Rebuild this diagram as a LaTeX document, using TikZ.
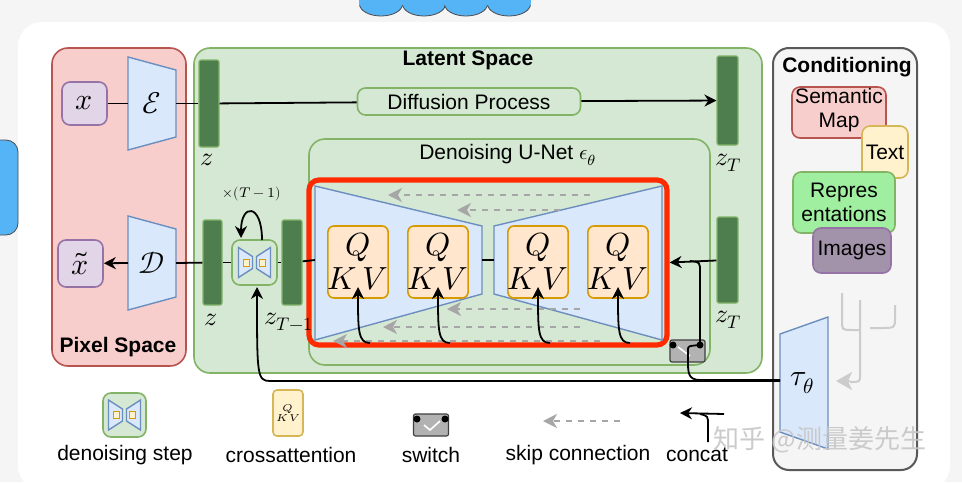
\documentclass[tikz,border=0pt]{standalone}
\usepackage{fontspec}
\setmainfont{Liberation Sans}
\newfontfamily\cjk{Noto Sans CJK SC}
\usepackage{unicode-math}
\setmathfont{Latin Modern Math}
\usetikzlibrary{arrows.meta}
\definecolor{pinkF}{HTML}{F8CECC}\definecolor{pinkD}{HTML}{B85450}
\definecolor{greenF}{HTML}{D5E8D4}\definecolor{greenD}{HTML}{82B366}
\definecolor{purpF}{HTML}{E1D5E7}\definecolor{purpD}{HTML}{9673A6}
\definecolor{blueF}{HTML}{DAE8FC}\definecolor{blueD}{HTML}{6C8EBF}
\definecolor{orF}{HTML}{FFE6CC}\definecolor{orD}{HTML}{D79B00}
\definecolor{yelF}{HTML}{FFF2CC}\definecolor{yelD}{HTML}{D6B656}
\definecolor{barF}{HTML}{4E7D4E}\definecolor{barD}{HTML}{82B366}
\definecolor{redB}{HTML}{FF2A00}
\definecolor{skyB}{HTML}{55B4F5}
\begin{document}
\begin{tikzpicture}[x=0.5pt,y=-0.5pt,
 box/.style={draw,rounded corners=4pt,line width=0.8pt,inner sep=0pt},
 bar/.style={fill=barF,draw=barD,line width=0.6pt,rounded corners=1pt},
 trap/.style={fill=blueF,draw=blueD,line width=0.7pt},
 lbl/.style={font=\fontsize{10.5}{12}\selectfont},
 ttl/.style={font=\bfseries\fontsize{10.5}{12}\selectfont},
 ml/.style={font=\fontsize{15}{16}\selectfont},
 zl/.style={font=\fontsize{13}{14}\selectfont},
 arr/.style={-{Stealth[length=6pt,width=6pt]},line width=0.9pt},
 ln/.style={line width=0.9pt},
 skip/.style={draw=gray!70,dashed,line width=0.8pt,-{Stealth[length=7pt,width=7pt,inset=2pt]}},
 qkv/.style={box,fill=orF,draw=orD,minimum width=29pt,minimum height=36pt,align=center,font=\fontsize{16}{17}\selectfont,rounded corners=3pt}]
\useasboundingbox (0,0) rectangle (962,482);
\fill[gray!8] (0,0) rectangle (962,482);
\fill[white,rounded corners=12pt] (18,22) rectangle (950,490);
% decorations
\fill[skyB,draw=black!70,rounded corners=6pt] (-20,140) rectangle (18,235);
\foreach \cx in {381,424,466,509} \filldraw[fill=skyB,draw=black!70] (\cx,4) ellipse (21.5 and 12);
\fill[skyB] (359,-5) rectangle (531,5);
% containers
\node[box,fill=pinkF,draw=pinkD,minimum width=67pt,minimum height=159pt,rounded corners=8pt] (pix) at (119,207) {};
\node[ttl] (pixl) at (118,347) {Pixel Space};
\node[box,fill=greenF,draw=greenD,minimum width=284pt,minimum height=162.5pt,rounded corners=8pt] (lat) at (478,210.5) {};
\node[ttl] (latl) at (468,60) {Latent Space};
\node[box,fill=gray!8,draw=gray!70!black,minimum width=72pt,minimum height=211pt,rounded corners=8pt,line width=1pt] (cond) at (845,259) {};
\node[ttl] (condl) at (847,67) {Conditioning};
\node[box,fill=greenF,draw=greenD,minimum width=200.5pt,minimum height=113pt,rounded corners=8pt] (unet) at (509.5,252) {};
\node[lbl] (unetl) at (508,155) {Denoising U-Net $\epsilon_\theta$};
% pixel space contents
\node[box,fill=purpF,draw=purpD,minimum width=22.5pt,minimum height=21.5pt,ml] (x) at (84.5,103.5) {$x$};
\node[box,fill=purpF,draw=purpD,minimum width=22.5pt,minimum height=23.5pt,ml] (xt) at (80.5,263.5) {$\tilde{x}$};
\draw[trap] (128,57) -- (176,70) -- (176,137) -- (128,150) -- cycle;
\node[ml] (E) at (152,103) {$\mathcal{E}$};
\draw[trap] (128,216) -- (176,229) -- (176,297) -- (128,310) -- cycle;
\node[ml] (D) at (152,263) {$\mathcal{D}$};
% latent bars
\node[bar,minimum width=10pt,minimum height=43.5pt,inner sep=0pt] (z1) at (209,103.5) {};
\node[zl] (z1l) at (207,160) {$z$};
\node[bar,minimum width=10.5pt,minimum height=44.5pt,inner sep=0pt] (zT1) at (727.5,100.5) {};
\node[zl] (zT1l) at (729,163) {$z_T$};
\node[bar,minimum width=9.5pt,minimum height=42.5pt,inner sep=0pt] (z2) at (212.5,262.5) {};
\node[zl] (z2l) at (211,320) {$z$};
\node[bar,minimum width=10pt,minimum height=42.5pt,inner sep=0pt] (zm) at (292,262.5) {};
\node[bar,minimum width=10.5pt,minimum height=43pt,inner sep=0pt] (zT2) at (727.5,260) {};
\node[zl] (zT2l) at (729,320) {$z_T$};
\node[box,fill=greenF,draw=greenD,minimum width=111.5pt,minimum height=13.5pt,lbl] (diff) at (469,101.5) {Diffusion Process};
\draw[ln] (x) -- (128,103.5);
\draw[ln] (176,103.5) -- (z1);
\draw[ln] (z1) -- (diff);
\draw[arr] (diff) -- (zT1);
% denoising step icon
\tikzset{pics/dstep/.style={code={
 \draw[trap,line width=0.7pt] (-16,-15) -- (-2,-6) -- (-2,6) -- (-16,15) -- cycle;
 \draw[trap,line width=0.7pt] (16,-15) -- (2,-6) -- (2,6) -- (16,15) -- cycle;
 \fill[yelF,draw=orD,line width=0.5pt] (-11,-3.5) rectangle (-5,3.5);
 \fill[yelF,draw=orD,line width=0.5pt] (5,-3.5) rectangle (11,3.5);}}}
\node[box,fill=greenF,draw=greenD,minimum width=22.5pt,minimum height=22.5pt] (step) at (254.5,262.5) {};
\pic at (254.5,262.5) {dstep};
\draw[arr] (262,240) .. controls (262,203) and (241,203) .. (241,238);
\node[font=\fontsize{7}{8}\selectfont] (loopl) at (252,194) {$\times(T-1)$};
\draw[ln] (176,263) -- (z2);
\draw[ln] (z2) -- (step);
\draw[ln] (step) -- (zm);
\draw[arr] (128,263) -- (xt);
% U-Net
\node[draw=redB,line width=2.6pt,rounded corners=5pt,minimum width=179pt,minimum height=82.5pt,inner sep=0pt] (red) at (488,262.5) {};
\node[zl] (zml) at (289,322) {$z_{T-1}$};
\draw[trap] (315,186) -- (482,226) -- (482,294) -- (315,340) -- cycle;
\draw[trap] (494,226) -- (662,186) -- (662,340) -- (494,294) -- cycle;
\draw[ln] (zm) -- (315,260);
\draw[ln] (482,260) -- (494,260);
\coordinate (s1a) at (590,195); \coordinate (s1b) at (388,195);
\coordinate (s2a) at (560,210); \coordinate (s2b) at (457,210);
\coordinate (s3a) at (580,309); \coordinate (s3b) at (447,309);
\coordinate (s4a) at (580,327); \coordinate (s4b) at (383,327);
\coordinate (s5a) at (600,341); \coordinate (s5b) at (333,341);
\foreach \a/\b in {s1a/s1b,s2a/s2b,s3a/s3b,s4a/s4b,s5a/s5b} \draw[skip] (\a) -- (\b);
\foreach \n/\xx in {q1/358,q2/438,q3/538,q4/618}{
 \node[qkv] (\n) at (\xx,262) {$Q$\\[0pt]$K\,V$};
 \draw[arr] (\xx+12,343) .. controls (\xx,343) and (\xx,330) .. (\xx,287);
}
% switch and conditioning path
\node[fill=gray!60,draw=gray!50!black,line width=0.6pt,rounded corners=1pt,minimum width=17.5pt,minimum height=11pt,inner sep=0pt] (sw) at (687.5,351) {};
\draw[white,line width=0.8pt] (678,347) -- (690,356);
\fill (673,345) circle (3.5);
\fill (700,345) circle (3.5);
\draw[arr] (zT2) -- (red.east);
\draw[ln] (700,345) -- (700,272) .. controls (700,262) .. (690,261);
\draw[trap] (780,334) -- (828,317) -- (828,449) -- (780,432) -- cycle;
\node[ml] (tau) at (803,383) {$\tau_\theta$};
\draw[ln] (780,380) -- (700,380) .. controls (688,380) and (688,372) .. (688,362) -- (688,350) .. controls (688,346) .. (700,345);
\draw[arr] (780,381) -- (270,381) .. controls (257,381) and (257,375) .. (257,287);
% conditioning items
\node[box,fill=pinkF,draw=pinkD,minimum width=47pt,minimum height=25.5pt] (sem) at (839,112.5) {};
\node[lbl,align=center] (seml) at (839,110) {Semantic\\Map};
\node[box,fill=yelF,draw=yelD,minimum width=23pt,minimum height=26pt,lbl] (txt) at (885,152) {Text};
\node[box,fill=green!25!greenF,draw=greenD,minimum width=51pt,minimum height=30.5pt,align=center,lbl] (rep) at (844,202.5) {Repres\\entations};
\node[box,fill=purpD!55!gray!80,draw=purpD,minimum width=39pt,minimum height=22.5pt,lbl] (img) at (852,250.5) {Images};
\draw[gray!40,line width=1pt] (842,293) -- (842,320) .. controls (842,330) .. (852,330) -- (860,330) -- (860,300)
 (895,305) -- (895,318) .. controls (895,328) .. (880,328) -- (870,328) (860,320) -- (860,375) .. controls (860,382) .. (850,382);
\draw[gray!40,line width=1pt,-{Stealth[length=8pt,width=9pt,inset=2pt]}] (850,381) -- (836,381);
% legend
\node[box,fill=greenF,draw=greenD,minimum width=21.5pt,minimum height=22pt] (lg1) at (124.5,415) {};
\pic at (124.5,415) {dstep};
\node[lbl] (lg1l) at (125,455) {denoising step};
\node[box,fill=yelF,draw=yelD,minimum width=15pt,minimum height=23pt,align=center,font=\fontsize{5}{5}\selectfont,rounded corners=2pt] (lg2) at (288,413) {$Q$\\$K\,V$};
\node[lbl] (lg2l) at (291,455) {crossattention};
\node[fill=gray!60,draw=gray!50!black,line width=0.6pt,rounded corners=1pt,minimum width=17.5pt,minimum height=11pt,inner sep=0pt] (lg3) at (431,425) {};
\fill (417,419) circle (3.5); \fill (445,419) circle (3.5);
\draw[white,line width=0.8pt] (424,425) -- (430,430) -- (440,421);
\node[lbl] (lg3l) at (431,455) {switch};
\coordinate (lg4a) at (620,421); \coordinate (lg4b) at (543,421);
\draw[skip] (lg4a) -- (lg4b);
\node[lbl] (lg4l) at (578,455) {skip connection};
\coordinate (lg5a) at (724,414); \coordinate (lg5b) at (680,413); \coordinate (lg5c) at (708,442);
\draw[arr] (lg5a) -- (lg5b);
\draw[ln] (lg5c) -- (708,425) .. controls (708,416) .. (700,414);
\node[lbl] (lg5l) at (697,455) {concat};
\node[font=\cjk\fontsize{13}{14}\selectfont,text=gray!45,opacity=0.9] (wm) at (820,440) {知乎 @测量姜先生};
\end{tikzpicture}
\end{document}
